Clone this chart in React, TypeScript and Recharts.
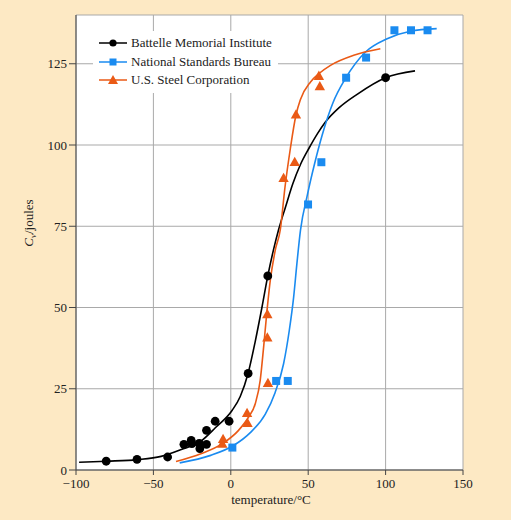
import { ComposedChart, Line, Scatter, XAxis, YAxis, CartesianGrid } from 'recharts'

// measured points
const battellePoints = [
  { x: -80.5, y: 2.7 }, { x: -60.6, y: 3.3 }, { x: -40.8, y: 4.0 }, { x: -30.3, y: 7.9 },
  { x: -25.6, y: 9.1 }, { x: -25.1, y: 8.1 }, { x: -20.4, y: 8.2 }, { x: -20.0, y: 6.6 },
  { x: -15.7, y: 12.2 }, { x: -15.7, y: 7.9 }, { x: -10.1, y: 15.0 }, { x: -1.1, y: 15.0 },
  { x: 11.2, y: 29.7 }, { x: 23.9, y: 59.7 }, { x: 100, y: 120.7 },
]
const nsbPoints = [
  { x: 1, y: 6.9 }, { x: 29.3, y: 27.4 }, { x: 36.8, y: 27.4 }, { x: 49.9, y: 81.7 },
  { x: 58.5, y: 94.7 }, { x: 74.5, y: 120.7 }, { x: 87.4, y: 126.9 }, { x: 105.7, y: 135.3 },
  { x: 116.4, y: 135.3 }, { x: 127.1, y: 135.3 },
]
const ussPoints = [
  { x: -5.5, y: 8.0 }, { x: -5, y: 9.5 }, { x: 10.5, y: 17.5 }, { x: 10.8, y: 14.4 },
  { x: 24, y: 26.7 }, { x: 23.6, y: 40.7 }, { x: 23.6, y: 47.9 }, { x: 34.1, y: 89.8 },
  { x: 41.3, y: 94.7 }, { x: 42.1, y: 109.3 }, { x: 56.9, y: 121.2 }, { x: 57.5, y: 118 },
]

// fitted curves
const battelleCurve = [
  { x: -98, y: 2.4 }, { x: -80, y: 2.7 }, { x: -60, y: 3.2 }, { x: -45, y: 4.2 },
  { x: -32, y: 6.3 }, { x: -19, y: 9 }, { x: -10, y: 13 }, { x: 0.8, y: 18.3 },
  { x: 6.1, y: 22.6 }, { x: 11.1, y: 29.6 }, { x: 15.8, y: 39.6 }, { x: 20.1, y: 50 },
  { x: 23.8, y: 59.5 }, { x: 27.6, y: 67.8 }, { x: 30.9, y: 74 }, { x: 35.4, y: 81 },
  { x: 40, y: 88 }, { x: 45, y: 94 }, { x: 50.5, y: 99 }, { x: 56, y: 103.5 },
  { x: 61, y: 107 }, { x: 70, y: 111.5 }, { x: 81.6, y: 115.6 }, { x: 100, y: 120.7 },
  { x: 119, y: 122.8 },
]
const nsbCurve = [
  { x: -33, y: 2.2 }, { x: -13, y: 4.5 }, { x: 2, y: 7.6 }, { x: 12.6, y: 11.5 },
  { x: 22.3, y: 17.2 }, { x: 28.6, y: 23.8 }, { x: 34.1, y: 32.7 }, { x: 37.8, y: 43 },
  { x: 40.6, y: 53.2 }, { x: 42.7, y: 63.5 }, { x: 45, y: 73.7 }, { x: 49.4, y: 84.5 },
  { x: 54, y: 94 }, { x: 59, y: 103 }, { x: 66, y: 113 }, { x: 74, y: 120.4 },
  { x: 87, y: 128.6 }, { x: 101, y: 132.7 }, { x: 116, y: 135 }, { x: 133, y: 135.8 },
]
const ussCurve = [
  { x: -35.4, y: 2.6 }, { x: -19.3, y: 5 }, { x: -5.4, y: 8.1 }, { x: 5, y: 12.2 },
  { x: 11.5, y: 16.3 }, { x: 15.8, y: 20.4 }, { x: 19, y: 27.6 }, { x: 21.2, y: 37.8 },
  { x: 23.4, y: 49.1 }, { x: 25.5, y: 58.3 }, { x: 28.7, y: 67.6 }, { x: 32, y: 74 },
  { x: 35, y: 87 }, { x: 38.5, y: 99 }, { x: 42, y: 109 }, { x: 45, y: 114 },
  { x: 51.5, y: 119.4 }, { x: 57, y: 122 }, { x: 64.4, y: 124.5 }, { x: 79.4, y: 127.6 },
  { x: 96.6, y: 129.6 },
]

const xTicks = [-100, -50, 0, 50, 100, 150]
const yTicks = [0, 25, 50, 75, 100, 125]

const BLACK = '#000000'
const BLUE = '#1a8bf0'
const ORANGE = '#ea5a16'
const FONT = '"Liberation Serif", "Times New Roman", serif'

const circle = (p: any) => <circle cx={p.cx} cy={p.cy} r={4.4} fill={BLACK} />
const square = (p: any) => <rect x={p.cx - 4} y={p.cy - 4} width={8} height={8} fill={BLUE} />
const triangle = (p: any) => (
  <polygon points={`${p.cx},${p.cy - 5.5} ${p.cx + 5.2},${p.cy + 3.8} ${p.cx - 5.2},${p.cy + 3.8}`} fill={ORANGE} />
)

const legendItems = [
  { name: 'Battelle Memorial Institute', color: BLACK, mark: 'circle' },
  { name: 'National Standards Bureau', color: BLUE, mark: 'square' },
  { name: 'U.S. Steel Corporation', color: ORANGE, mark: 'triangle' },
]

function LegendBox() {
  return (
    <div style={{ position: 'absolute', left: 93, top: 31, width: 185, height: 62, background: '#fff', fontFamily: FONT, fontSize: 13, color: '#222' }}>
      {legendItems.map((it, i) => (
        <div key={it.name} style={{ position: 'absolute', left: 6, top: 3 + i * 18.5, height: 18, display: 'flex', alignItems: 'center' }}>
          <svg width={32} height={14} style={{ display: 'block' }}>
            <line x1={0} y1={7} x2={28} y2={7} stroke={it.color} strokeWidth={1.5} />
            {it.mark === 'circle' && <circle cx={14} cy={7} r={3.6} fill={it.color} />}
            {it.mark === 'square' && <rect x={10.5} y={3.5} width={7} height={7} fill={it.color} />}
            {it.mark === 'triangle' && <polygon points="14,2 19,11 9,11" fill={it.color} />}
          </svg>
          <span style={{ whiteSpace: 'nowrap' }}>{it.name}</span>
        </div>
      ))}
    </div>
  )
}

export default function App() {
  const tickStyle = { fontFamily: FONT, fontSize: 13, fill: '#222' }
  return (
    <div style={{ position: 'absolute', left: 0, top: 0, width: 511, height: 520, background: '#fde9c4' }}>
      <ComposedChart width={511} height={520} margin={{ top: 15, right: 48, bottom: 0, left: 16 }}>
        <CartesianGrid stroke="#a9a9a9" strokeWidth={1} fill="#ffffff" fillOpacity={1} />
        <XAxis
          type="number"
          dataKey="x"
          domain={[-100, 150]}
          ticks={xTicks}
          height={50}
          tickSize={5}
          tickMargin={4}
          stroke="#444"
          tick={tickStyle}
          tickFormatter={(v) => (v < 0 ? `\u2212${Math.abs(v)}` : `${v}`)}
          label={{
            content: () => (
              <text x={271} y={504} textAnchor="middle" style={{ fontFamily: FONT, fontSize: 13, fill: '#222' }}>
                temperature/°C
              </text>
            ),
          }}
        />
        <YAxis
          type="number"
          dataKey="y"
          domain={[0, 140]}
          ticks={yTicks}
          width={60}
          tickSize={7}
          tickMargin={2}
          stroke="#444"
          tick={tickStyle}
          label={{
            content: () => (
              <text x={33} y={223} textAnchor="middle" transform="rotate(-90 33 223)" style={{ fontFamily: FONT, fontSize: 13, fill: '#222' }}>
                <tspan fontStyle="italic">C</tspan>
                <tspan fontStyle="italic" fontSize={9} dy={3}>v</tspan>
                <tspan dy={-3}>/joules</tspan>
              </text>
            ),
          }}
        />
        <Line data={battelleCurve} dataKey="y" type="monotone" stroke={BLACK} strokeWidth={1.6} dot={false} isAnimationActive={false} />
        <Line data={nsbCurve} dataKey="y" type="monotone" stroke={BLUE} strokeWidth={1.6} dot={false} isAnimationActive={false} />
        <Line data={ussCurve} dataKey="y" type="monotone" stroke={ORANGE} strokeWidth={1.6} dot={false} isAnimationActive={false} />
        <Scatter data={battellePoints} dataKey="y" shape={circle} isAnimationActive={false} />
        <Scatter data={nsbPoints} dataKey="y" shape={square} isAnimationActive={false} />
        <Scatter data={ussPoints} dataKey="y" shape={triangle} isAnimationActive={false} />
      </ComposedChart>
      <LegendBox />
    </div>
  )
}
